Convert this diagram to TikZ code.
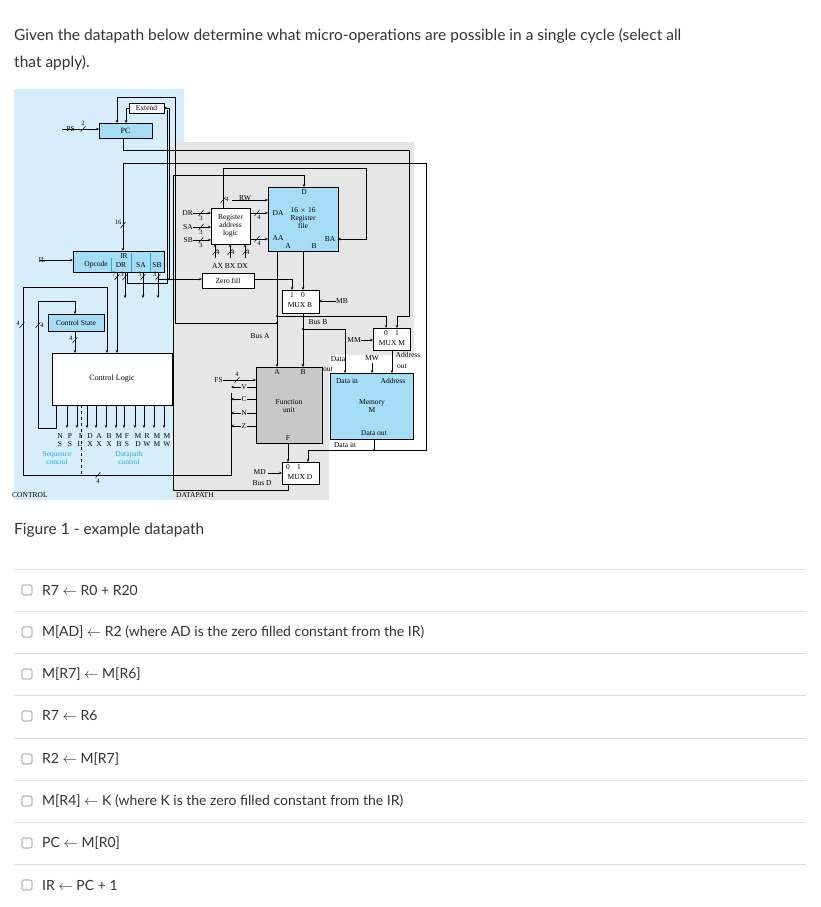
\documentclass[tikz,border=0pt]{standalone}
\usepackage{fontspec}
\setmainfont{Liberation Serif}
\newfontfamily\lato{Lato}
\usetikzlibrary{arrows.meta}
\definecolor{cblue}{HTML}{D6EEFB}
\definecolor{bblue}{HTML}{A6DDF6}
\definecolor{cgrey}{HTML}{E6E6E6}
\definecolor{fgrey}{HTML}{C8C8C8}
\definecolor{seq}{HTML}{29A8E0}
\definecolor{sep}{HTML}{DDDDDD}
\definecolor{qtext}{HTML}{333333}
\tikzset{x=1pt,y=-1pt,
  ln/.style={line width=0.7pt},
  ar/.style={ln,-{Stealth[length=3pt,width=2.5pt]}},
  lbl/.style={font=\fontsize{7.5}{8}\selectfont,inner sep=0pt},
  qt/.style={font=\lato\fontsize{15.5}{18}\selectfont,text=qtext,anchor=west,inner sep=0pt},
  opt/.style={font=\lato\fontsize{14}{16}\selectfont,text=qtext,anchor=west,inner sep=0pt},
  dot/.style={circle,fill,inner sep=0pt,minimum size=2.5pt}}
\newcommand\bxx[6]{\draw[ln,fill=#6] (#2,#3) rectangle (#4,#5); \coordinate (#1) at ({(#2+#4)/2},{(#3+#5)/2});}
\newcommand\sls[3]{\draw[line width=0.5pt] (#1)++(-2.5,3)--++(5,-6); \node[lbl,font=\fontsize{6.5}{7}\selectfont] at ($(#1)+(#2)$) {#3};}
\usetikzlibrary{calc}
\begin{document}
\begin{tikzpicture}
\useasboundingbox[fill=white] (0,0) rectangle (820,907);
% regions
\fill[cblue] (14,89) rectangle (184,142) (14,142) rectangle (173,500);
\fill[cgrey] (173,142) -- (414,142) -- (414,355) -- (329,355) -- (329,500) -- (173,500) -- cycle;
% question
\node[qt] (q1) at (14,36) {Given the datapath below determine what micro-operations are possible in a single cycle (select all};
\node[qt] (q2) at (14,63) {that apply).};
\node[qt] (fig) at (14,530) {Figure 1 - example datapath};
\foreach \y/\t [count=\i] in {590/{R7 $\leftarrow$ R0 + R20},632/{M[AD] $\leftarrow$ R2 (where AD is the zero filled constant from the IR)},674/{M[R7] $\leftarrow$ M[R6]},716/{R7 $\leftarrow$ R6},759/{R2 $\leftarrow$ M[R7]},801/{M[R4] $\leftarrow$ K (where K is the zero filled constant from the IR)},843/{PC $\leftarrow$ M[R0]},885/{IR $\leftarrow$ PC + 1}}{
  \draw[sep,line width=0.8pt] (14,\y-21) -- (806,\y-21);
  \draw[fill=white,draw=gray,rounded corners=1.5pt,line width=0.6pt] (22,\y-5) rectangle (32,\y+5);
  \node[opt] (o\i) at (42,\y) {\t};
}
% boxes
\bxx{ext}{129}{103}{164}{113}{white}
\node[lbl] at (ext) {Extend};
\bxx{pc}{99}{123}{152}{138}{bblue}
\node[lbl,font=\fontsize{8}{9}\selectfont] at (pc) {PC};
\bxx{ir}{73}{251}{164}{272}{bblue}
\node[lbl] at (124,256) {IR};
\node[lbl] at (96,265) {Opcode};
\node[lbl] at (121,265) {DR}; \node[lbl] at (141,265) {SA}; \node[lbl] at (157,265) {SB};
\draw[seq,line width=0.4pt] (111,258)--(111,272) (131,253)--(131,272) (150,253)--(150,272);
\bxx{cs}{48}{314}{104}{331}{bblue}
\node[lbl] at (cs) {Control State};
\bxx{cl}{52}{353}{172}{405}{white}
\node[lbl,font=\fontsize{8}{9}\selectfont] at (cl) {Control Logic};
\bxx{ral}{211}{208}{250}{244}{white}
\node[lbl,align=center] at (ral) {Register\\address\\logic};
\bxx{rf}{268}{187}{338}{251}{bblue}
\node[lbl,align=center] at (303,218) {16 $\times$ 16\\Register\\file};
\node[lbl] at (304,192) {D}; \node[lbl] at (278,213) {DA}; \node[lbl] at (278,238) {AA};
\node[lbl] at (288,246) {A}; \node[lbl] at (314,246) {B}; \node[lbl] at (330,239) {BA};
\bxx{zf}{202}{273}{254}{288}{white}
\node[lbl] at (zf) {Zero fill};
\bxx{mb}{282}{290}{319}{313}{white}
\node[lbl] at (292,295) {1}; \node[lbl] at (303,295) {0}; \node[lbl] at (300,305) {MUX B};
\bxx{mm}{373}{328}{410}{350}{white}
\node[lbl] at (386,333) {0}; \node[lbl] at (397,333) {1}; \node[lbl] at (392,343) {MUX M};
\bxx{fu}{256}{367}{322}{443}{fgrey}
\node[lbl] at (277,372) {A}; \node[lbl] at (303,372) {B};
\node[lbl,align=center] at (289,406) {Function\\unit}; \node[lbl] at (288,438) {F};
\bxx{mem}{330}{373}{413}{439}{bblue}
\node[lbl] at (347,381) {Data in}; \node[lbl] at (393,381) {Address};
\node[lbl,align=center] at (372,406) {Memory\\M}; \node[lbl] at (374,433) {Data out};
\bxx{md}{282}{462}{319}{484}{white}
\node[lbl] at (288,467) {0}; \node[lbl] at (299,467) {1}; \node[lbl] at (300,477) {MUX D};
% PC / extend
\draw[ar] (175,323) -- (175,97) -- (117,97) -- (117,123);
\draw[ar] (129,108) -- (126,108) -- (126,123);
\draw[ar] (169,279) -- (169,108) -- (164,108);
\draw[ln] (127,272) -- (127,283) -- (167,283) -- (167,110);
\draw[ar] (62,129) -- (99,129); \node[lbl,anchor=east] at (75,129) {PS}; \sls{83,129}{0,-6}{2}
% IR
\draw[ar] (40,260) -- (73,260); \node[lbl,anchor=east] at (46,260) {IL};
\draw[ar] (117,272) -- (117,353); \sls{117,277}{-3,-3}{7}
\foreach \x in {125,143,158}{\draw[ar] (\x,272) -- (\x,298); \sls{\x,277}{-3,-3}{3}}
\draw[ln] (158,279) -- (169,279); \node[dot] at (169,279) {};
\draw[ar] (169,279) -- (202,279);
% PC out -> MUX M
\draw[ar] (123,138) -- (123,150) -- (409,150) -- (409,316) -- (397,316) -- (397,328);
% memory data out -> IR and MUX D
\draw[ar] (374,439) -- (374,450) -- (426,450) -- (426,163) -- (123,163) -- (123,251);
\sls{123,225}{-5,-3}{16}
\node[dot] at (374,450) {};
\draw[ar] (374,450) -- (308,450) -- (308,462);
% bus D
\draw[ar] (288,484) -- (288,490) -- (173,490) -- (173,175) -- (304,175) -- (304,187);
% RAL
\draw[ar] (223,208) -- (223,168) -- (366,168) -- (366,239) -- (338,239);
\sls{223,200}{4,-1}{4}
\draw[ar] (232,200) -- (268,200); \node[lbl] at (245,198) {RW};
\foreach \y/\t in {213/DR,227/SA,240/SB}{\draw[ar] (193,\y) -- (211,\y); \node[lbl,anchor=east] at (193,\y) {\t}; \sls{201,\y}{0,5}{3}}
\draw[ar] (250,213) -- (268,213); \sls{257,213}{2,4}{4}
\draw[ar] (250,239) -- (268,239); \sls{257,239}{2,4}{4}
\foreach \x in {215,230,245}{\draw[ar] (\x,258) -- (\x,244); \sls{\x,252}{3,0}{4}}
\node[lbl] at (230,266) {AX BX DX};
% buses
\draw[ar] (277,251) -- (277,367);
\draw[ar] (303,251) -- (303,290);
\draw[ar] (254,279) -- (292,279) -- (292,290);
\draw[ar] (303,313) -- (303,367);
\node[dot] at (277,316) {}; \node[dot] at (277,323) {}; \node[dot] at (303,329) {};
\draw[ln] (175,323) -- (277,323);
\draw[ar] (277,316) -- (386,316) -- (386,328);
\draw[ar] (303,329) -- (345,329) -- (345,373);
\node[lbl] at (260,336) {Bus A}; \node[lbl] at (318,322) {Bus B};
\draw[ar] (336,301) -- (319,301); \node[lbl,anchor=west] at (336,301) {MB};
\draw[ar] (361,340) -- (373,340); \node[lbl,anchor=east] at (361,340) {MM};
\draw[ar] (392,350) -- (392,373);
\draw[ar] (372,363) -- (372,373); \node[lbl] at (372,358) {MW};
\node[lbl] at (408,355) {Address}; \node[lbl] at (402,366) {out};
\node[lbl] at (338,359) {Data}; \node[lbl] at (328,369) {out};
\node[lbl] at (345,445) {Data in};
% FU
\draw[ar] (223,380) -- (256,380); \node[lbl,anchor=east] at (223,380) {FS}; \sls{237,380}{0,-6}{4}
\foreach \y/\t in {387/V,399/C,413/N,426/Z}{\draw[ar] (256,\y) -- (231,\y); \node[lbl,fill=cgrey,inner sep=0.5pt] at (244,\y) {\t};}
\draw[ar] (231,393) -- (231,475) -- (23,475) -- (23,287) -- (107,287) -- (107,353);
\sls{98,475}{0,6}{4}
\draw[ar] (288,443) -- (288,462);
\draw[ar] (268,473) -- (282,473); \node[lbl,anchor=east] at (266,472) {MD};
\node[lbl] at (262,483) {Bus D};
% control state loop
\draw[ar] (56,405) -- (56,428) -- (38,428) -- (38,301) -- (75,301) -- (75,314);
\draw[ar] (75,331) -- (75,353); \sls{75,340}{-4,-2}{4}
\sls{22,325}{-4,-2}{4} \sls{38,325}{4,0}{4}
% control outputs
\foreach \x/\a/\b in {67/N/S,77/P/S,87/I/L,96/D/X,106/A/X,116/B/X,124/M/B,135/F/S,144/M/D,154/R/W,164/M/M}{
  \draw[ar] (\x,405) -- (\x,428);
}
\foreach \x/\a/\b in {57/N/S,67/P/S,77/I/L,87/D/X,96/A/X,106/B/X,116/M/B,124/F/S,135/M/D,144/R/W,154/M/M,164/M/W}{
  \node[lbl] at (\x+3,436) {\a}; \node[lbl] at (\x+3,444) {\b};
}
\draw[ln,dashed] (81,405) -- (81,475);
\node[lbl,text=seq,align=center] at (57,458) {Sequence\\control};
\node[lbl,text=seq,align=center] at (129,458) {Datapath\\control};
\node[lbl,anchor=west] at (12,495) {CONTROL};
\node[lbl,anchor=west] at (176,495) {DATAPATH};
\end{tikzpicture}
\end{document}
